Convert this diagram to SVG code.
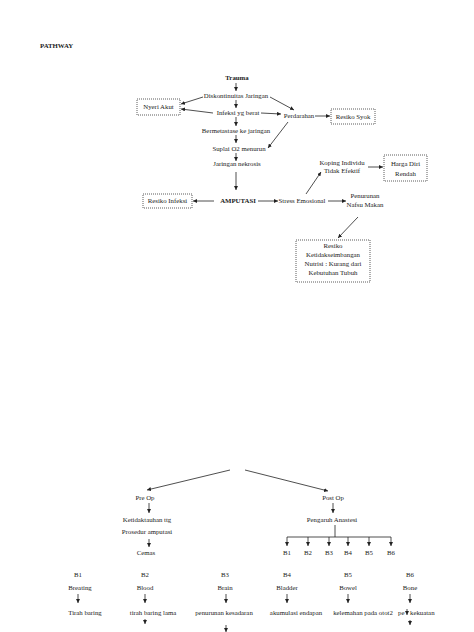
<svg xmlns="http://www.w3.org/2000/svg" width="474" height="632" viewBox="0 0 474 632">
<style>
text{font-family:"Liberation Serif","Times New Roman",serif;font-size:6.8px;fill:#222;text-anchor:middle}
.b{font-weight:bold}
.l{text-anchor:start}
.c line,.c path{stroke:#222;stroke-width:0.8;fill:none}
.box{fill:none;stroke:#333;stroke-width:0.8;stroke-dasharray:1,1}
</style>
<defs>
<marker id="a" viewBox="0 0 6 6" refX="6" refY="3" markerWidth="4" markerHeight="4" markerUnits="userSpaceOnUse" orient="auto"><path d="M0,0L6,3L0,6z" fill="#222"/></marker>
</defs>
<rect width="474" height="632" fill="#fff"/>
<text class="b l" x="40" y="48">PATHWAY</text>

<g id="trauma"><text class="b" x="237" y="80">Trauma</text></g>
<g id="diskontinuitas"><text x="236" y="98">Diskontinuitas Jaringan</text></g>
<g id="nyeri"><rect class="box" x="137" y="99" width="43" height="16"/><text x="158.5" y="109">Nyeri Akut</text></g>
<g id="infeksi"><text x="238" y="115">Infeksi yg berat</text></g>
<g id="perdarahan"><text x="299" y="118">Perdarahan</text></g>
<g id="syok"><rect class="box" x="331" y="109" width="44" height="15"/><text x="353" y="118.5">Resiko Syok</text></g>
<g id="bermetastase"><text x="236" y="133">Bermetastase ke jaringan</text></g>
<g id="suplai"><text x="239" y="151">Suplai O2 menurun</text></g>
<g id="nekrosis"><text x="237" y="166">Jaringan nekrosis</text></g>
<g id="amputasi"><text class="b" x="238" y="203">AMPUTASI</text></g>
<g id="resikoinfeksi"><rect class="box" x="143" y="194" width="49" height="14"/><text x="167.5" y="203">Resiko Infeksi</text></g>
<g id="stress"><text x="302" y="203">Stress Emosional</text></g>
<g id="penurunan"><text x="365" y="198">Penurunan</text><text x="365" y="207">Nafsu Makan</text></g>
<g id="koping"><text x="342" y="165">Koping Individu</text><text x="342" y="173">Tidak Efektif</text></g>
<g id="harga"><rect class="box" x="384" y="155" width="43" height="26"/><text x="405.5" y="166">Harga Diri</text><text x="405.5" y="176">Rendah</text></g>
<g id="nutrisi"><rect class="box" x="296" y="240" width="74" height="42"/><text x="333" y="248">Resiko</text><text x="333" y="257">Ketidakseimbangan</text><text x="333" y="266">Nutrisi : Kurang dari</text><text x="333" y="275">Kebutuhan Tubuh</text></g>

<g id="preop"><text x="145" y="500">Pre Op</text></g>
<g id="ketidaktauhan"><text x="147" y="522">Ketidaktauhan ttg</text><text x="147" y="534">Prosedur amputasi</text></g>
<g id="cemas"><text x="146" y="555">Cemas</text></g>
<g id="postop"><text x="333" y="500">Post Op</text></g>
<g id="anastesi"><text x="332" y="522">Pengaruh Anastesi</text></g>
<g id="bsmall"><text x="287" y="555">B1</text><text x="308" y="555">B2</text><text x="329" y="555">B3</text><text x="348" y="555">B4</text><text x="369" y="555">B5</text><text x="391" y="555">B6</text></g>
<g id="b1"><text x="78" y="577">B1</text><text x="80" y="590">Breating</text><text x="85" y="615">Tirah baring</text></g>
<g id="b2"><text x="145" y="577">B2</text><text x="145" y="590">Blood</text><text x="153" y="615">tirah baring lama</text></g>
<g id="b3"><text x="225" y="577">B3</text><text x="225" y="590">Brain</text><text x="224" y="615">penurunan kesadaran</text></g>
<g id="b4"><text x="287" y="577">B4</text><text x="287" y="590">Bladder</text><text x="296" y="615">akumulasi endapan</text></g>
<g id="b5"><text x="348" y="577">B5</text><text x="348" y="590">Bowel</text><text x="363" y="615">kelemahan pada otot2</text></g>
<g id="b6"><text x="410" y="577">B6</text><text x="410" y="590">Bone</text><text class="l" x="398" y="615">pe</text><text class="l" x="410" y="615">kekuatan</text></g>

<g class="c" id="connectors">
<line x1="236" y1="83" x2="236" y2="91" marker-end="url(#a)"/>
<line x1="203" y1="97" x2="181" y2="104" marker-end="url(#a)"/>
<line x1="213" y1="113" x2="181" y2="109" marker-end="url(#a)"/>
<line x1="261" y1="113" x2="281" y2="114" marker-end="url(#a)"/>
<line x1="270" y1="97" x2="294" y2="110" marker-end="url(#a)"/>
<line x1="315" y1="116" x2="330" y2="116" marker-end="url(#a)"/>
<line x1="236" y1="100" x2="236" y2="108" marker-end="url(#a)"/>
<line x1="236" y1="117" x2="236" y2="126" marker-end="url(#a)"/>
<line x1="236" y1="135" x2="236" y2="143" marker-end="url(#a)"/>
<line x1="288" y1="122" x2="268" y2="148" marker-end="url(#a)"/>
<line x1="236" y1="153" x2="236" y2="161" marker-end="url(#a)"/>
<line x1="236" y1="172" x2="236" y2="190" marker-end="url(#a)"/>
<line x1="214" y1="201" x2="193" y2="201" marker-end="url(#a)"/>
<line x1="258" y1="201" x2="278" y2="201" marker-end="url(#a)"/>
<line x1="306" y1="194" x2="321" y2="172" marker-end="url(#a)"/>
<line x1="368" y1="167" x2="383" y2="167" marker-end="url(#a)"/>
<line x1="328" y1="201" x2="346" y2="201" marker-end="url(#a)"/>
<line x1="358" y1="217" x2="338" y2="238" marker-end="url(#a)"/>

<line x1="230" y1="470" x2="147" y2="490" marker-end="url(#a)"/>
<line x1="245" y1="470" x2="328" y2="491" marker-end="url(#a)"/>
<line x1="149" y1="503" x2="149" y2="513" marker-end="url(#a)"/>
<line x1="149" y1="539" x2="149" y2="547" marker-end="url(#a)"/>
<line x1="333" y1="503" x2="333" y2="513" marker-end="url(#a)"/>
<line x1="335" y1="525" x2="335" y2="537"/>
<line x1="287" y1="537" x2="391" y2="537"/>
<line x1="287" y1="537" x2="287" y2="546" marker-end="url(#a)"/>
<line x1="308" y1="537" x2="308" y2="546" marker-end="url(#a)"/>
<line x1="329" y1="537" x2="329" y2="546" marker-end="url(#a)"/>
<line x1="348" y1="537" x2="348" y2="546" marker-end="url(#a)"/>
<line x1="369" y1="537" x2="369" y2="546" marker-end="url(#a)"/>
<line x1="391" y1="537" x2="391" y2="546" marker-end="url(#a)"/>

<line x1="78" y1="594" x2="78" y2="603" marker-end="url(#a)"/>
<line x1="145" y1="594" x2="145" y2="603" marker-end="url(#a)"/>
<line x1="226" y1="594" x2="226" y2="603" marker-end="url(#a)"/>
<line x1="287" y1="594" x2="287" y2="603" marker-end="url(#a)"/>
<line x1="348" y1="594" x2="348" y2="603" marker-end="url(#a)"/>
<line x1="410" y1="594" x2="410" y2="603" marker-end="url(#a)"/>
<line x1="145" y1="619" x2="145" y2="624" marker-end="url(#a)"/>
<line x1="226" y1="625" x2="226" y2="632" marker-end="url(#a)"/>
<line x1="407" y1="609" x2="407" y2="615" marker-end="url(#a)"/>
<line x1="410" y1="620" x2="410" y2="625" marker-end="url(#a)"/>
</g>
</svg>
